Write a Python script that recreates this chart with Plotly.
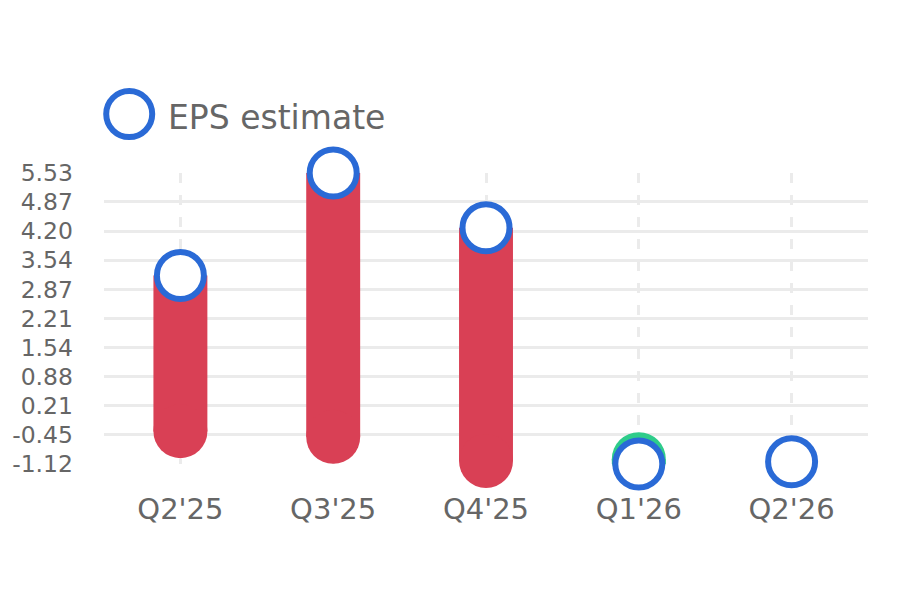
import plotly.graph_objects as go

quarters = ["Q2'25", "Q3'25", "Q4'25", "Q1'26", "Q2'26"]
eps_estimate = [3.19, 5.53, 4.28, -1.12, -1.07]
eps_actual = [-0.37, -0.50, -1.05, -1.01, None]
y_ticks = [5.53, 4.87, 4.20, 3.54, 2.87, 2.21, 1.54, 0.88, 0.21, -0.45, -1.12]
y_ticktext = ["5.53", "4.87", "4.20", "3.54", "2.87", "2.21", "1.54", "0.88", "0.21", "-0.45", "-1.12"]

RED = "#d94055"
GREEN = "#2ecc8a"
BLUE = "#2a6ad6"
FONT = "DejaVu Sans"
TXT = "#666666"

bx, bbase, bh, bcol = [], [], [], []
for q, e, a in zip(quarters, eps_estimate, eps_actual):
    if a is None:
        continue
    bx.append(q)
    bbase.append(a)
    bh.append(e - a)
    bcol.append(RED if a < e else GREEN)

fig = go.Figure()
fig.add_trace(go.Bar(x=bx, y=bh, base=bbase, marker=dict(color=bcol, line=dict(width=0)),
                     width=0.353, showlegend=False, hoverinfo="skip"))
cap_x = [q for q, a in zip(quarters, eps_actual) if a is not None]
cap_y = [a for a in eps_actual if a is not None]
cap_c = [RED if a < e else GREEN for e, a in zip(eps_estimate, eps_actual) if a is not None]
fig.add_trace(go.Scatter(x=cap_x, y=cap_y, mode="markers", cliponaxis=False, showlegend=False,
                         marker=dict(size=54, color=cap_c, line=dict(width=0))))
fig.add_trace(go.Scatter(x=quarters, y=eps_estimate, mode="markers", cliponaxis=False,
                         name="EPS estimate", showlegend=False,
                         marker=dict(size=47, color="white", line=dict(width=6, color=BLUE))))

# legend drawn manually (plotly caps legend marker size)
fig.add_shape(type="circle", xref="paper", yref="paper", xsizemode="pixel", ysizemode="pixel",
              xanchor=0.033, yanchor=1.2027, x0=-23, x1=23, y0=-23, y1=23,
              line=dict(color=BLUE, width=6), fillcolor="white")
fig.add_annotation(text="EPS estimate", xref="paper", yref="paper", x=0.081, y=1.192,
                   xanchor="left", yanchor="middle", showarrow=False,
                   font=dict(family=FONT, size=33, color=TXT))

fig.update_layout(
    width=900, height=600,
    margin=dict(l=104, r=32, t=173, b=136),
    paper_bgcolor="white", plot_bgcolor="white",
    xaxis=dict(type="category", range=[-0.5, 4.5], showgrid=True, gridcolor="#ebebeb",
               gridwidth=2.5, griddash="10px,12px", showline=False, zeroline=False,
               ticks="", ticklabelstandoff=25,
               tickfont=dict(family=FONT, size=29, color=TXT)),
    yaxis=dict(range=[-1.12, 5.53], tickvals=y_ticks, ticktext=y_ticktext,
               showgrid=True, gridcolor="#ebebeb", gridwidth=2.5, zeroline=False,
               showline=False, ticks="", ticklabelstandoff=30,
               tickfont=dict(family=FONT, size=23.5, color=TXT)),
)

fig.write_html("out.html")
